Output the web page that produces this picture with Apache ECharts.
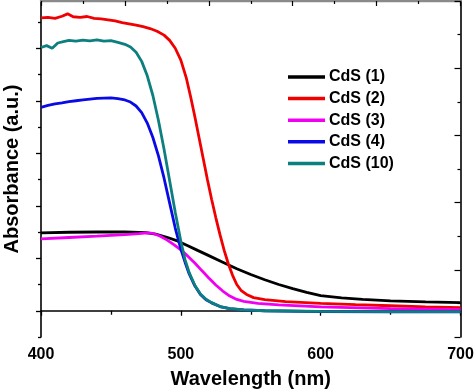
<!DOCTYPE html>
<html>
<head>
<meta charset="utf-8">
<script src="https://cdn.jsdelivr.net/npm/echarts@6/dist/echarts.min.js"></script>
<style>
html,body{margin:0;padding:0;background:#fff;}
#chart{width:474px;height:389px;}
</style>
</head>
<body>
<div id="chart"></div>
<script>
// ---- data (wavelength in nm, absorbance in a.u.) ----
var seriesNames = ['CdS (1)', 'CdS (2)', 'CdS (3)', 'CdS (4)', 'CdS (10)'];
var seriesColors = ['#000000', '#f00000', '#f000f0', '#0a0ae6', '#0e7f7f'];

var cds1Wl  = [400, 420, 440, 460, 475, 482, 490, 498, 505, 512, 520, 530, 540, 550, 560, 570, 580, 590, 600, 615, 630, 650, 675, 700];
var cds1Abs = [0.297, 0.299, 0.300, 0.300, 0.298, 0.292, 0.280, 0.265, 0.248, 0.230, 0.210, 0.185, 0.160, 0.138, 0.118, 0.100, 0.084, 0.070, 0.058, 0.049, 0.043, 0.038, 0.034, 0.031];

var cds2Wl  = [400, 405, 410, 415, 419, 423, 428, 433, 438, 443, 448, 453, 458, 463, 468, 473, 478, 483, 488, 492, 496, 500, 504, 507, 510, 513, 516, 519, 522, 525, 528, 531, 534, 537, 540, 543, 547, 552, 560, 575, 600, 625, 650, 675, 700];
var cds2Abs = [1.116, 1.118, 1.114, 1.122, 1.131, 1.120, 1.118, 1.121, 1.114, 1.112, 1.108, 1.104, 1.098, 1.093, 1.088, 1.082, 1.075, 1.065, 1.050, 1.030, 1.000, 0.955, 0.885, 0.815, 0.740, 0.660, 0.580, 0.500, 0.425, 0.355, 0.290, 0.230, 0.178, 0.135, 0.100, 0.078, 0.062, 0.050, 0.042, 0.035, 0.028, 0.023, 0.019, 0.015, 0.012];

var cds3Wl  = [400, 420, 440, 460, 470, 476, 480, 485, 490, 495, 500, 505, 510, 515, 520, 525, 530, 535, 540, 545, 555, 570, 600, 650, 700];
var cds3Abs = [0.274, 0.279, 0.284, 0.290, 0.294, 0.297, 0.295, 0.285, 0.270, 0.252, 0.232, 0.208, 0.182, 0.153, 0.125, 0.098, 0.075, 0.056, 0.043, 0.036, 0.028, 0.022, 0.015, 0.008, 0.004];

var cds4Wl  = [400, 405, 410, 415, 420, 425, 430, 435, 440, 445, 450, 455, 460, 464, 468, 472, 476, 480, 484, 488, 492, 496, 500, 503, 506, 510, 514, 518, 522, 528, 535, 545, 560, 600, 650, 700];
var cds4Abs = [0.775, 0.782, 0.788, 0.792, 0.797, 0.800, 0.803, 0.806, 0.809, 0.810, 0.811, 0.808, 0.803, 0.795, 0.780, 0.755, 0.715, 0.660, 0.590, 0.505, 0.410, 0.315, 0.235, 0.185, 0.140, 0.095, 0.062, 0.042, 0.030, 0.016, 0.008, 0.003, 0.000, -0.003, -0.004, -0.004];

var cds10Wl  = [400, 404, 408, 412, 416, 420, 425, 430, 435, 440, 445, 450, 455, 460, 464, 468, 472, 476, 480, 484, 488, 492, 496, 500, 503, 506, 510, 514, 518, 522, 528, 535, 545, 560, 600, 650, 700];
var cds10Abs = [1.003, 1.010, 1.000, 1.020, 1.025, 1.030, 1.027, 1.031, 1.028, 1.032, 1.027, 1.029, 1.022, 1.015, 1.005, 0.985, 0.950, 0.895, 0.820, 0.725, 0.615, 0.495, 0.375, 0.265, 0.195, 0.145, 0.097, 0.064, 0.044, 0.031, 0.016, 0.008, 0.003, 0.000, -0.002, -0.003, -0.003];

var xTickLabels = ['400', '500', '600', '700'];
var yMajorTicks = [0, 0.2, 0.4, 0.6, 0.8, 1.0];
var yMinorTicks = [-0.1, 0.1, 0.3, 0.5, 0.7, 0.9, 1.1];

// ---- chart ----
var wls = [cds1Wl, cds2Wl, cds3Wl, cds4Wl, cds10Wl];
var absv = [cds1Abs, cds2Abs, cds3Abs, cds4Abs, cds10Abs];
function pairs(xs, ys) { var o = []; for (var i = 0; i < xs.length; i++) o.push([xs[i], ys[i]]); return o; }

var FONT = "'Liberation Sans', Arial, sans-serif";
var chart = echarts.init(document.getElementById('chart'), null, {renderer: 'canvas'});

var series = seriesNames.map(function (n, i) {
  return {
    name: n, type: 'line', xAxisIndex: 0, yAxisIndex: 0,
    data: pairs(wls[i], absv[i]),
    symbol: 'none', showSymbol: false, smooth: false,
    lineStyle: {color: seriesColors[i], width: 2.8},
    itemStyle: {color: seriesColors[i]},
    emphasis: {disabled: true}, animation: false
  };
});

chart.setOption({
  animation: false,
  backgroundColor: '#ffffff',
  grid: {left: 41, right: 13.5, top: 1, bottom: 52, outerBoundsMode: 'none', containLabel: false},
  legend: {
    orient: 'vertical', left: 288, top: 69, padding: 0,
    itemWidth: 37, itemHeight: 3.5, itemGap: 5.6,
    data: seriesNames.map(function (n, i) {
      return {name: n, icon: 'rect', itemStyle: {color: seriesColors[i]}};
    }),
    textStyle: {fontFamily: FONT, fontWeight: 'bold', fontSize: 16, color: '#000', lineHeight: 16, padding: [0, 0, 0, -1]},
    selectedMode: false
  },
  xAxis: [
    {
      type: 'value', position: 'bottom', min: 400, max: 700, interval: 100,
      axisLine: {show: true, lineStyle: {color: '#000', width: 1.6}},
      axisTick: {show: true, inside: false, length: 5, lineStyle: {color: '#000', width: 1.3}},
      minorTick: {show: true, splitNumber: 2, length: 4, lineStyle: {color: '#000', width: 1.3}},
      splitLine: {show: false}, minorSplitLine: {show: false},
      axisLabel: {show: true, margin: 10, fontFamily: FONT, fontWeight: 'bold', fontSize: 16, color: '#000',
        formatter: function (v) { var i = xTickLabels.indexOf(String(v)); return i >= 0 ? xTickLabels[i] : ''; }},
      name: 'Wavelength (nm)', nameLocation: 'middle', nameGap: 32,
      nameTextStyle: {fontFamily: FONT, fontWeight: 'bold', fontSize: 20, color: '#000'}
    },
    {
      type: 'value', position: 'top', min: 0, max: 10, interval: 2,
      axisLine: {show: true, onZero: false, lineStyle: {color: '#8a8a8a', width: 2.4}},
      axisTick: {show: true, inside: true, length: 5, lineStyle: {color: '#000', width: 1.2}},
      minorTick: {show: true, splitNumber: 2, length: 3, lineStyle: {color: '#000', width: 1.2}},
      splitLine: {show: false}, axisLabel: {show: false}
    }
  ],
  yAxis: [
    {
      type: 'value', position: 'left', min: -0.1, max: 1.18,
      axisLine: {show: true, onZero: false, lineStyle: {color: '#000', width: 1.6}},
      axisTick: {show: true, inside: false, length: 5, customValues: yMajorTicks, lineStyle: {color: '#000', width: 1.3}},
      splitLine: {show: false}, axisLabel: {show: false},
      name: 'Absorbance (a.u.)', nameLocation: 'middle', nameGap: 19,
      nameTextStyle: {fontFamily: FONT, fontWeight: 'bold', fontSize: 20, color: '#000'}
    },
    {
      type: 'value', position: 'right', min: 0, max: 10, interval: 2,
      axisLine: {show: true, onZero: false, lineStyle: {color: '#000', width: 1.6}},
      axisTick: {show: true, inside: true, length: 6, lineStyle: {color: '#000', width: 1.2}},
      minorTick: {show: true, splitNumber: 2, length: 3, lineStyle: {color: '#000', width: 1.2}},
      splitLine: {show: false}, axisLabel: {show: false}
    },
    {
      type: 'value', position: 'left', min: -0.1, max: 1.18,
      axisLine: {show: false},
      axisTick: {show: true, inside: false, length: 3, customValues: yMinorTicks, lineStyle: {color: '#000', width: 1.3}},
      splitLine: {show: false}, axisLabel: {show: false}
    }
  ],
  series: series
});
</script>
</body>
</html>
